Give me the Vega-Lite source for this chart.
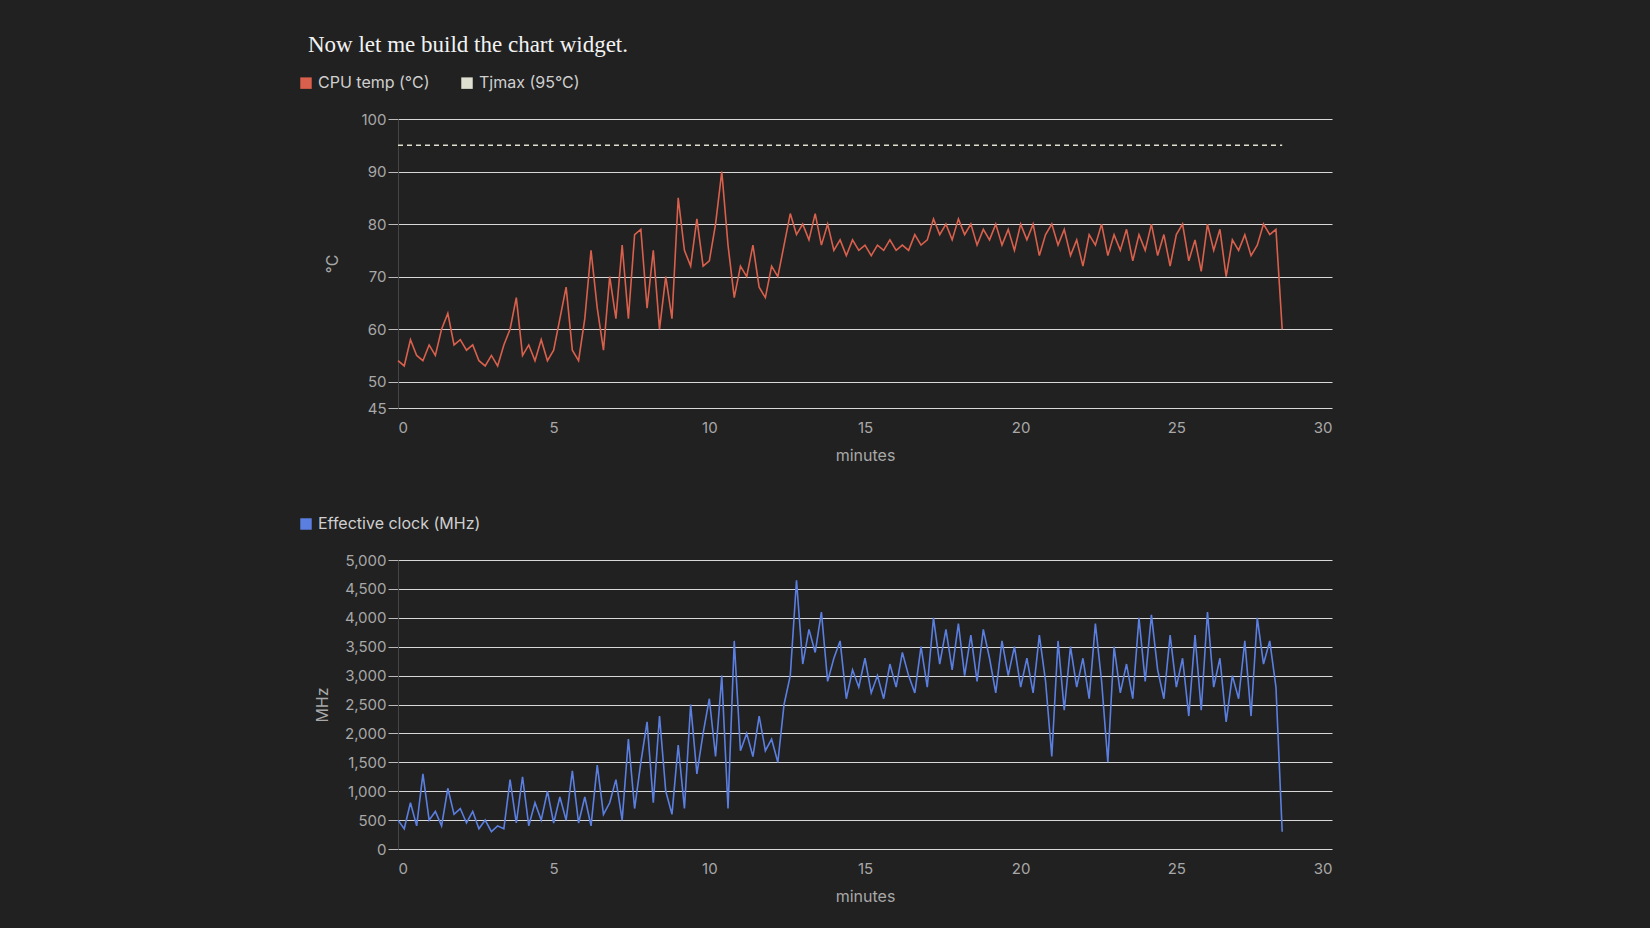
{
  "$schema": "https://vega.github.io/schema/vega-lite/v6.json",
  "background": "#212121",
  "padding": {"left": 298, "top": 34, "right": 330, "bottom": 60},
  "title": {"text": "Now let me build the chart widget.", "font": "Liberation Serif", "fontSize": 23, "fontWeight": "normal", "color": "#f2f2f2", "anchor": "start", "offset": 18, "dx": 10},
  "datasets": {
    "series": [
      {"min":0.0,"temp":54,"clock":500},{"min":0.2,"temp":53,"clock":350},{"min":0.4,"temp":58,"clock":800},{"min":0.6,"temp":55,"clock":400},{"min":0.8,"temp":54,"clock":1300},
      {"min":1.0,"temp":57,"clock":500},{"min":1.2,"temp":55,"clock":650},{"min":1.4,"temp":60,"clock":400},{"min":1.6,"temp":63,"clock":1050},{"min":1.8,"temp":57,"clock":600},
      {"min":2.0,"temp":58,"clock":700},{"min":2.2,"temp":56,"clock":450},{"min":2.4,"temp":57,"clock":650},{"min":2.6,"temp":54,"clock":350},{"min":2.8,"temp":53,"clock":500},
      {"min":3.0,"temp":55,"clock":300},{"min":3.2,"temp":53,"clock":400},{"min":3.4,"temp":57,"clock":350},{"min":3.6,"temp":60,"clock":1200},{"min":3.8,"temp":66,"clock":450},
      {"min":4.0,"temp":55,"clock":1250},{"min":4.2,"temp":57,"clock":400},{"min":4.4,"temp":54,"clock":800},{"min":4.6,"temp":58,"clock":500},{"min":4.8,"temp":54,"clock":1000},
      {"min":5.0,"temp":56,"clock":450},{"min":5.2,"temp":62,"clock":900},{"min":5.4,"temp":68,"clock":500},{"min":5.6,"temp":56,"clock":1350},{"min":5.8,"temp":54,"clock":450},
      {"min":6.0,"temp":62,"clock":900},{"min":6.2,"temp":75,"clock":400},{"min":6.4,"temp":64,"clock":1450},{"min":6.6,"temp":56,"clock":600},{"min":6.8,"temp":70,"clock":800},
      {"min":7.0,"temp":62,"clock":1200},{"min":7.2,"temp":76,"clock":500},{"min":7.4,"temp":62,"clock":1900},{"min":7.6,"temp":78,"clock":700},{"min":7.8,"temp":79,"clock":1500},
      {"min":8.0,"temp":64,"clock":2200},{"min":8.2,"temp":75,"clock":800},{"min":8.4,"temp":60,"clock":2300},{"min":8.6,"temp":70,"clock":1000},{"min":8.8,"temp":62,"clock":600},
      {"min":9.0,"temp":85,"clock":1800},{"min":9.2,"temp":75,"clock":700},{"min":9.4,"temp":72,"clock":2500},{"min":9.6,"temp":81,"clock":1300},{"min":9.8,"temp":72,"clock":2000},
      {"min":10.0,"temp":73,"clock":2600},{"min":10.2,"temp":80,"clock":1600},{"min":10.4,"temp":90,"clock":3000},{"min":10.6,"temp":76,"clock":700},{"min":10.8,"temp":66,"clock":3600},
      {"min":11.0,"temp":72,"clock":1700},{"min":11.2,"temp":70,"clock":2000},{"min":11.4,"temp":76,"clock":1600},{"min":11.6,"temp":68,"clock":2300},{"min":11.8,"temp":66,"clock":1700},
      {"min":12.0,"temp":72,"clock":1900},{"min":12.2,"temp":70,"clock":1500},{"min":12.4,"temp":76,"clock":2500},{"min":12.6,"temp":82,"clock":3000},{"min":12.8,"temp":78,"clock":4650},
      {"min":13.0,"temp":80,"clock":3200},{"min":13.2,"temp":77,"clock":3800},{"min":13.4,"temp":82,"clock":3400},{"min":13.6,"temp":76,"clock":4100},{"min":13.8,"temp":80,"clock":2900},
      {"min":14.0,"temp":75,"clock":3300},{"min":14.2,"temp":77,"clock":3600},{"min":14.4,"temp":74,"clock":2600},{"min":14.6,"temp":77,"clock":3100},{"min":14.8,"temp":75,"clock":2800},
      {"min":15.0,"temp":76,"clock":3300},{"min":15.2,"temp":74,"clock":2700},{"min":15.4,"temp":76,"clock":3000},{"min":15.6,"temp":75,"clock":2600},{"min":15.8,"temp":77,"clock":3200},
      {"min":16.0,"temp":75,"clock":2800},{"min":16.2,"temp":76,"clock":3400},{"min":16.4,"temp":75,"clock":3000},{"min":16.6,"temp":78,"clock":2700},{"min":16.8,"temp":76,"clock":3500},
      {"min":17.0,"temp":77,"clock":2800},{"min":17.2,"temp":81,"clock":4000},{"min":17.4,"temp":78,"clock":3200},{"min":17.6,"temp":80,"clock":3800},{"min":17.8,"temp":77,"clock":3100},
      {"min":18.0,"temp":81,"clock":3900},{"min":18.2,"temp":78,"clock":3000},{"min":18.4,"temp":80,"clock":3700},{"min":18.6,"temp":76,"clock":2900},{"min":18.8,"temp":79,"clock":3800},
      {"min":19.0,"temp":77,"clock":3300},{"min":19.2,"temp":80,"clock":2700},{"min":19.4,"temp":76,"clock":3600},{"min":19.6,"temp":79,"clock":3000},{"min":19.8,"temp":75,"clock":3500},
      {"min":20.0,"temp":80,"clock":2800},{"min":20.2,"temp":77,"clock":3300},{"min":20.4,"temp":80,"clock":2700},{"min":20.6,"temp":74,"clock":3700},{"min":20.8,"temp":78,"clock":2900},
      {"min":21.0,"temp":80,"clock":1600},{"min":21.2,"temp":76,"clock":3600},{"min":21.4,"temp":79,"clock":2400},{"min":21.6,"temp":74,"clock":3500},{"min":21.8,"temp":77,"clock":2800},
      {"min":22.0,"temp":72,"clock":3300},{"min":22.2,"temp":78,"clock":2600},{"min":22.4,"temp":76,"clock":3900},{"min":22.6,"temp":80,"clock":2900},{"min":22.8,"temp":74,"clock":1500},
      {"min":23.0,"temp":78,"clock":3500},{"min":23.2,"temp":75,"clock":2700},{"min":23.4,"temp":79,"clock":3200},{"min":23.6,"temp":73,"clock":2600},{"min":23.8,"temp":78,"clock":4000},
      {"min":24.0,"temp":75,"clock":2900},{"min":24.2,"temp":80,"clock":4050},{"min":24.4,"temp":74,"clock":3100},{"min":24.6,"temp":78,"clock":2600},{"min":24.8,"temp":72,"clock":3700},
      {"min":25.0,"temp":78,"clock":2800},{"min":25.2,"temp":80,"clock":3300},{"min":25.4,"temp":73,"clock":2300},{"min":25.6,"temp":77,"clock":3700},{"min":25.8,"temp":71,"clock":2400},
      {"min":26.0,"temp":80,"clock":4100},{"min":26.2,"temp":75,"clock":2800},{"min":26.4,"temp":79,"clock":3300},{"min":26.6,"temp":70,"clock":2200},{"min":26.8,"temp":77,"clock":3000},
      {"min":27.0,"temp":75,"clock":2600},{"min":27.2,"temp":78,"clock":3600},{"min":27.4,"temp":74,"clock":2300},{"min":27.6,"temp":76,"clock":4000},{"min":27.8,"temp":80,"clock":3200},
      {"min":28.0,"temp":78,"clock":3600},{"min":28.2,"temp":79,"clock":2800},{"min":28.4,"temp":60,"clock":300}
    ],
    "tj": [{"min":0,"v":95},{"min":28.4,"v":95}]
  },
  "vconcat": [
    {
      "width": 934,
      "height": 289,
      "layer": [
        {
          "data": {"name": "tj"},
          "mark": {"type": "line", "strokeDash": [5, 4], "strokeWidth": 1.5},
          "encoding": {
            "x": {"field": "min", "type": "quantitative", "scale": {"domain": [0, 30]}},
            "y": {"field": "v", "type": "quantitative", "scale": {"domain": [45, 100], "zero": false}},
            "color": {"datum": "Tjmax (95°C)"}
          }
        },
        {
          "data": {"name": "series"},
          "mark": {"type": "line", "strokeWidth": 1.6},
          "encoding": {
            "x": {"field": "min", "type": "quantitative", "scale": {"domain": [0, 30]}, "axis": {"values": [0,5,10,15,20,25,30], "title": "minutes", "grid": false, "domain": false, "ticks": false, "labelPadding": 12, "titlePadding": 12}},
            "y": {"field": "temp", "type": "quantitative", "scale": {"domain": [45, 100], "zero": false}, "axis": {"values": [45,50,60,70,80,90,100], "title": "°C", "titlePadding": 20}},
            "color": {"datum": "CPU temp (°C)", "scale": {"domain": ["CPU temp (°C)", "Tjmax (95°C)"], "range": ["#d9604c", "#e0e0d0"]}, "legend": {"orient": "none", "legendX": -100, "legendY": -44, "direction": "horizontal"}}
          }
        }
      ]
    },
    {
      "width": 934,
      "height": 289,
      "data": {"name": "series"},
      "mark": {"type": "line", "strokeWidth": 1.6},
      "encoding": {
        "x": {"field": "min", "type": "quantitative", "scale": {"domain": [0, 30]}, "axis": {"values": [0,5,10,15,20,25,30], "title": "minutes", "grid": false, "domain": false, "ticks": false, "labelPadding": 12, "titlePadding": 12}},
        "y": {"field": "clock", "type": "quantitative", "scale": {"domain": [0, 5000]}, "axis": {"values": [0,500,1000,1500,2000,2500,3000,3500,4000,4500,5000], "title": "MHz", "format": ",.0f"}},
        "color": {"datum": "Effective clock (MHz)", "scale": {"domain": ["Effective clock (MHz)"], "range": ["#5b7fe0"]}, "legend": {"orient": "none", "legendX": -100, "legendY": -44, "direction": "horizontal"}}
      }
    }
  ],
  "align": "none",
  "spacing": 53,
  "resolve": {"scale": {"color": "independent"}, "legend": {"color": "independent"}},
  "config": {
    "view": {"stroke": null},
    "axis": {"labelFont": "Inter", "titleFont": "Inter", "labelColor": "#a8a8a8", "titleColor": "#a8a8a8", "labelFontSize": 15, "titleFontSize": 16, "titleFontWeight": "normal", "gridColor": "#d8d8d8", "gridWidth": 1.2, "domainColor": "#444", "tickColor": "#bbb", "tickSize": 10},
    "axisY": {"titlePadding": 14},
    "legend": {"title": null, "labelFont": "Inter", "labelFontSize": 16, "labelColor": "#cfcfcf", "symbolType": "square", "symbolSize": 30, "symbolStrokeWidth": 6, "columnPadding": 22, "labelLimit": 300}
  }
}
